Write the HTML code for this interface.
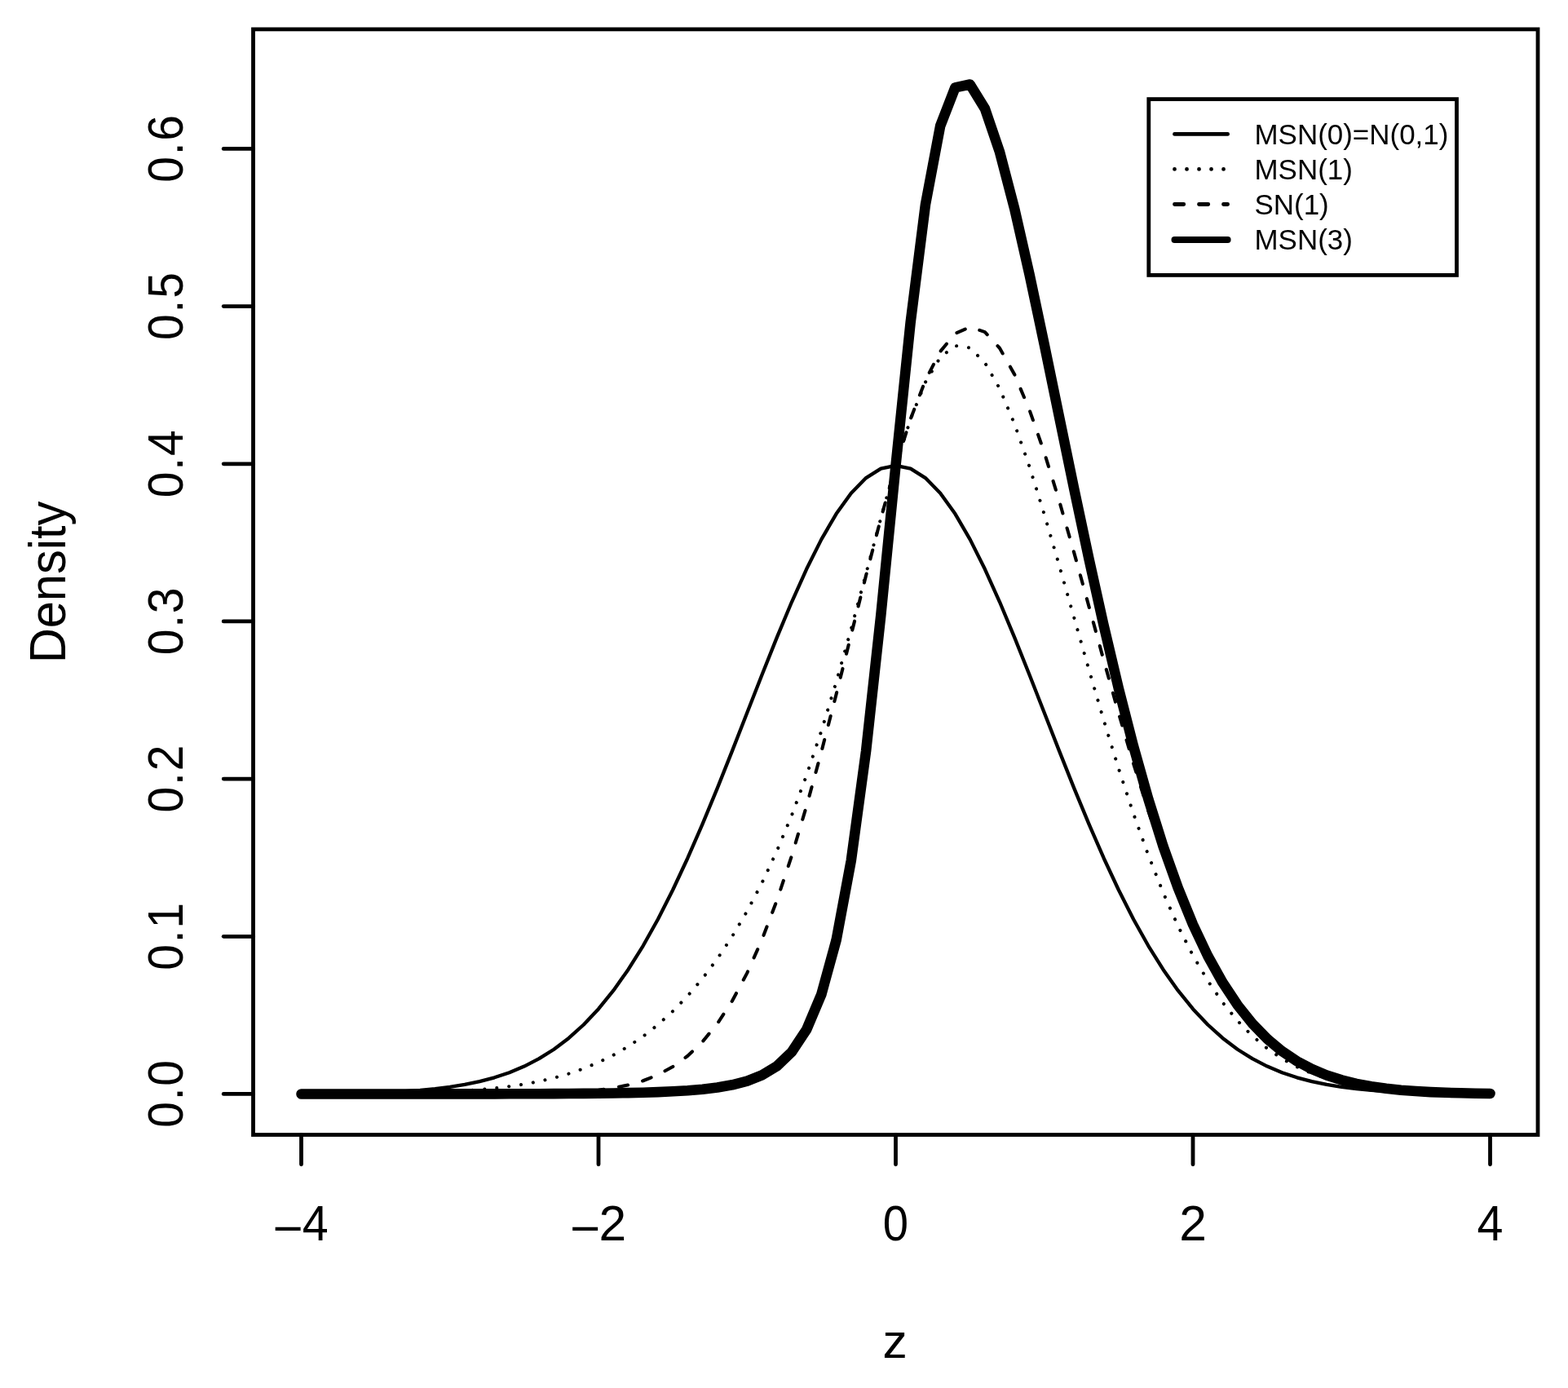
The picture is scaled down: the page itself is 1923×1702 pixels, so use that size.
<!DOCTYPE html>
<html lang="en"><head><meta charset="utf-8"><title>Density plot</title>
<style>html,body{margin:0;padding:0;background:#fff}svg{display:block}text{font-family:"Liberation Sans",sans-serif;fill:#000}</style></head><body>
<svg width="1923" height="1702" viewBox="0 0 1923 1702">
<rect width="1923" height="1702" fill="#fff"/>
<g fill="none" stroke="#000" stroke-linecap="round" stroke-linejoin="round" stroke-width="4.8">
<path d="M369.50,1341.19 L387.73,1341.07 L405.95,1340.89 L424.17,1340.63 L442.40,1340.27 L460.62,1339.76 L478.85,1339.07 L497.08,1338.12 L515.30,1336.84 L533.52,1335.14 L551.75,1332.89 L569.98,1329.95 L588.20,1326.16 L606.42,1321.32 L624.65,1315.21 L642.88,1307.59 L661.10,1298.19 L679.33,1286.73 L697.55,1272.92 L715.78,1256.49 L734.00,1237.16 L752.23,1214.70 L770.45,1188.94 L788.68,1159.78 L806.90,1127.19 L825.12,1091.26 L843.35,1052.23 L861.58,1010.42 L879.80,966.35 L898.03,920.63 L916.25,874.04 L934.48,827.46 L952.70,781.86 L970.93,738.28 L989.15,697.77 L1007.38,661.38 L1025.60,630.07 L1043.83,604.73 L1062.05,586.08 L1080.28,574.67 L1098.50,570.83 L1116.73,574.67 L1134.95,586.08 L1153.17,604.73 L1171.40,630.07 L1189.62,661.38 L1207.85,697.77 L1226.08,738.28 L1244.30,781.86 L1262.53,827.46 L1280.75,874.04 L1298.98,920.63 L1317.20,966.35 L1335.43,1010.42 L1353.65,1052.23 L1371.88,1091.26 L1390.10,1127.19 L1408.33,1159.78 L1426.55,1188.94 L1444.78,1214.70 L1463.00,1237.16 L1481.23,1256.49 L1499.45,1272.92 L1517.68,1286.73 L1535.90,1298.19 L1554.12,1307.59 L1572.35,1315.21 L1590.58,1321.32 L1608.80,1326.16 L1627.03,1329.95 L1645.25,1332.89 L1663.48,1335.14 L1681.70,1336.84 L1699.93,1338.12 L1718.15,1339.07 L1736.38,1339.76 L1754.60,1340.27 L1772.83,1340.63 L1791.05,1340.89 L1809.28,1341.07 L1827.50,1341.19" stroke-width="4.3"/>
<path d="M369.50,1341.36 L387.73,1341.32 L405.95,1341.26 L424.17,1341.18 L442.40,1341.05 L460.62,1340.88 L478.85,1340.65 L497.08,1340.32 L515.30,1339.88 L533.52,1339.30 L551.75,1338.52 L569.98,1337.49 L588.20,1336.15 L606.42,1334.44 L624.65,1332.25 L642.88,1329.49 L661.10,1326.05 L679.33,1321.80 L697.55,1316.60 L715.78,1310.30 L734.00,1302.75 L752.23,1293.77 L770.45,1283.19 L788.68,1270.83 L806.90,1256.51 L825.12,1240.03 L843.35,1221.19 L861.58,1199.77 L879.80,1175.52 L898.03,1148.15 L916.25,1117.33 L934.48,1082.65 L952.70,1043.65 L970.93,999.85 L989.15,950.80 L1007.38,896.19 L1025.60,836.13 L1043.83,771.35 L1062.05,703.53 L1080.28,635.45 L1098.50,570.83 L1116.73,513.89 L1134.95,468.64 L1153.17,438.12 L1171.40,424.02 L1189.62,426.56 L1207.85,444.74 L1226.08,476.70 L1244.30,520.07 L1262.53,572.27 L1280.75,630.76 L1298.98,693.11 L1317.20,757.17 L1335.43,821.07 L1353.65,883.26 L1371.88,942.50 L1390.10,997.87 L1408.33,1048.73 L1426.55,1094.70 L1444.78,1135.64 L1463.00,1171.57 L1481.23,1202.67 L1499.45,1229.25 L1517.68,1251.66 L1535.90,1270.33 L1554.12,1285.69 L1572.35,1298.17 L1590.58,1308.20 L1608.80,1316.17 L1627.03,1322.41 L1645.25,1327.26 L1663.48,1330.98 L1681.70,1333.80 L1699.93,1335.92 L1718.15,1337.49 L1736.38,1338.65 L1754.60,1339.48 L1772.83,1340.08 L1791.05,1340.51 L1809.28,1340.81 L1827.50,1341.02" stroke-width="4.1" stroke-dasharray="0.01 14.99" stroke-dashoffset="0"/>
<path d="M369.50,1341.45 L387.73,1341.45 L405.95,1341.45 L424.17,1341.45 L442.40,1341.45 L460.62,1341.45 L478.85,1341.45 L497.08,1341.45 L515.30,1341.44 L533.52,1341.44 L551.75,1341.43 L569.98,1341.41 L588.20,1341.37 L606.42,1341.31 L624.65,1341.21 L642.88,1341.03 L661.10,1340.74 L679.33,1340.28 L697.55,1339.54 L715.78,1338.41 L734.00,1336.70 L752.23,1334.17 L770.45,1330.49 L788.68,1325.26 L806.90,1317.97 L825.12,1308.02 L843.35,1294.74 L861.58,1277.36 L879.80,1255.12 L898.03,1227.27 L916.25,1193.14 L934.48,1152.24 L952.70,1104.35 L970.93,1049.56 L989.15,988.39 L1007.38,921.79 L1025.60,851.20 L1043.83,778.47 L1062.05,705.82 L1080.28,635.75 L1098.50,570.83 L1116.73,513.59 L1134.95,466.34 L1153.17,431.00 L1171.40,408.95 L1189.62,400.96 L1207.85,407.15 L1226.08,427.00 L1244.30,459.38 L1262.53,502.68 L1280.75,554.95 L1298.98,613.99 L1317.20,677.57 L1335.43,743.48 L1353.65,809.72 L1371.88,874.51 L1390.10,936.41 L1408.33,994.30 L1426.55,1047.40 L1444.78,1095.23 L1463.00,1137.61 L1481.23,1174.56 L1499.45,1206.31 L1517.68,1233.19 L1535.90,1255.64 L1554.12,1274.15 L1572.35,1289.22 L1590.58,1301.33 L1608.80,1310.95 L1627.03,1318.50 L1645.25,1324.35 L1663.48,1328.84 L1681.70,1332.25 L1699.93,1334.80 L1718.15,1336.69 L1736.38,1338.08 L1754.60,1339.09 L1772.83,1339.81 L1791.05,1340.32 L1809.28,1340.68 L1827.50,1340.93" stroke-width="4.1" stroke-dasharray="11.25 18.75" stroke-dashoffset="0"/>
<path d="M369.50,1341.45 L387.73,1341.45 L405.95,1341.45 L424.17,1341.45 L442.40,1341.45 L460.62,1341.44 L478.85,1341.44 L497.08,1341.44 L515.30,1341.43 L533.52,1341.42 L551.75,1341.41 L569.98,1341.40 L588.20,1341.38 L606.42,1341.35 L624.65,1341.32 L642.88,1341.27 L661.10,1341.21 L679.33,1341.13 L697.55,1341.02 L715.78,1340.88 L734.00,1340.69 L752.23,1340.44 L770.45,1340.12 L788.68,1339.69 L806.90,1339.10 L825.12,1338.31 L843.35,1337.22 L861.58,1335.69 L879.80,1333.50 L898.03,1330.33 L916.25,1325.61 L934.48,1318.44 L952.70,1307.36 L970.93,1289.96 L989.15,1262.46 L1007.38,1219.23 L1025.60,1152.79 L1043.83,1055.12 L1062.05,921.24 L1080.28,754.62 L1098.50,570.83 L1116.73,394.72 L1134.95,250.93 L1153.17,154.35 L1171.40,107.36 L1189.62,103.52 L1207.85,133.08 L1226.08,186.59 L1244.30,256.36 L1262.53,336.48 L1280.75,422.48 L1298.98,510.94 L1317.20,599.19 L1335.43,685.16 L1353.65,767.24 L1371.88,844.22 L1390.10,915.27 L1408.33,979.87 L1426.55,1037.77 L1444.78,1088.96 L1463.00,1133.62 L1481.23,1172.10 L1499.45,1204.83 L1517.68,1232.34 L1535.90,1255.18 L1554.12,1273.91 L1572.35,1289.11 L1590.58,1301.29 L1608.80,1310.94 L1627.03,1318.51 L1645.25,1324.37 L1663.48,1328.86 L1681.70,1332.26 L1699.93,1334.81 L1718.15,1336.70 L1736.38,1338.09 L1754.60,1339.09 L1772.83,1339.81 L1791.05,1340.32 L1809.28,1340.68 L1827.50,1340.93" stroke-width="12.6"/>
<rect x="310.5" y="35.9" width="1575.5" height="1355.6" stroke-linejoin="miter"/>
<line x1="369.50" y1="1391.5" x2="369.50" y2="1427.8"/>
<line x1="734.00" y1="1391.5" x2="734.00" y2="1427.8"/>
<line x1="1098.50" y1="1391.5" x2="1098.50" y2="1427.8"/>
<line x1="1463.00" y1="1391.5" x2="1463.00" y2="1427.8"/>
<line x1="1827.50" y1="1391.5" x2="1827.50" y2="1427.8"/>
<line x1="310.5" y1="1341.45" x2="274.2" y2="1341.45"/>
<line x1="310.5" y1="1148.28" x2="274.2" y2="1148.28"/>
<line x1="310.5" y1="955.12" x2="274.2" y2="955.12"/>
<line x1="310.5" y1="761.95" x2="274.2" y2="761.95"/>
<line x1="310.5" y1="568.78" x2="274.2" y2="568.78"/>
<line x1="310.5" y1="375.62" x2="274.2" y2="375.62"/>
<line x1="310.5" y1="182.45" x2="274.2" y2="182.45"/>
<rect x="1408.8" y="121.6" width="377.7" height="215.8" stroke-linejoin="miter"/>
<line x1="1440.5" y1="164.4" x2="1505.6" y2="164.4"/>
<line x1="1440.5" y1="207.4" x2="1505.6" y2="207.4" stroke-dasharray="0.01 15.00"/>
<line x1="1440.5" y1="250.5" x2="1505.6" y2="250.5" stroke-dasharray="11.25 18.75"/>
<line x1="1440.5" y1="293.9" x2="1505.6" y2="293.9" stroke-width="8.0"/>
</g>
<g font-size="60.5" text-anchor="middle">
<text text-anchor="start" transform="translate(334.40,1527.1) scale(1.055,1)">−</text>
<text transform="translate(386.80,1521.2) scale(0.95,1)">4</text>
<text text-anchor="start" transform="translate(698.90,1527.1) scale(1.055,1)">−</text>
<text transform="translate(751.30,1521.2) scale(1.0,1)">2</text>
<text transform="translate(1098.50,1521.2) scale(0.93,1)">0</text>
<text transform="translate(1463.00,1521.2) scale(1.0,1)">2</text>
<text transform="translate(1827.50,1521.2) scale(0.95,1)">4</text>
<text transform="translate(224.4,1341.45) rotate(-90) scale(0.94,1)" letter-spacing="1.97" dx="0.98">0.0</text>
<text transform="translate(224.4,1148.28) rotate(-90) scale(0.94,1)" letter-spacing="1.97" dx="0.98">0.1</text>
<text transform="translate(224.4,955.12) rotate(-90) scale(0.94,1)" letter-spacing="1.97" dx="0.98">0.2</text>
<text transform="translate(224.4,761.95) rotate(-90) scale(0.94,1)" letter-spacing="1.97" dx="0.98">0.3</text>
<text transform="translate(224.4,568.78) rotate(-90) scale(0.94,1)" letter-spacing="1.97" dx="0.98">0.4</text>
<text transform="translate(224.4,375.62) rotate(-90) scale(0.94,1)" letter-spacing="1.97" dx="0.98">0.5</text>
<text transform="translate(224.4,182.45) rotate(-90) scale(0.94,1)" letter-spacing="1.97" dx="0.98">0.6</text>
<text transform="translate(1097.50,1665) scale(1,0.97)">z</text>
<text transform="translate(80,714.00) rotate(-90) scale(0.985,1.05)">Density</text>
</g>
<g font-size="35.2">
<text transform="translate(1538.5,176.9) scale(0.993,1.02)">MSN(0)=N(0,1)</text>
<text transform="translate(1538.5,219.9) scale(0.993,1.02)">MSN(1)</text>
<text transform="translate(1538.5,262.7) scale(0.993,1.02)">SN(1)</text>
<text transform="translate(1538.5,306.4) scale(0.993,1.02)">MSN(3)</text>
</g>
</svg></body></html>
